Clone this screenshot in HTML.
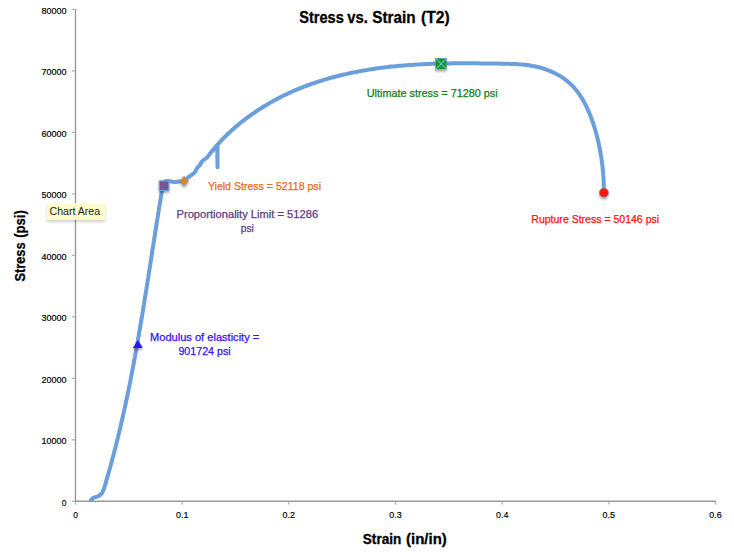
<!DOCTYPE html>
<html>
<head>
<meta charset="utf-8">
<title>Stress vs. Strain (T2)</title>
<style>
html,body{margin:0;padding:0;background:#fff;}
body{width:734px;height:553px;overflow:hidden;font-family:"Liberation Sans",sans-serif;}
svg{display:block;}
text{font-family:"Liberation Sans",sans-serif;}
.tick{font-size:9.7px;fill:#000;stroke:#000;stroke-width:0.18px;}
.lbl{font-size:10.7px;stroke-width:0.25px;}
.ttl{font-weight:bold;fill:#000;stroke:#000;stroke-width:0.3px;}
</style>
</head>
<body>
<svg width="734" height="553" viewBox="0 0 734 553">
<defs>
<filter id="sh" x="-50%" y="-50%" width="200%" height="220%">
<feGaussianBlur in="SourceAlpha" stdDeviation="1.3"/>
<feOffset dx="0" dy="1.6" result="b"/>
<feComponentTransfer><feFuncA type="linear" slope="0.33"/></feComponentTransfer>
<feMerge><feMergeNode/><feMergeNode in="SourceGraphic"/></feMerge>
</filter>
<filter id="tsh" x="-30%" y="-50%" width="160%" height="250%"><feGaussianBlur stdDeviation="1.6"/><feOffset dy="1.5"/></filter>
<clipPath id="plotclip"><rect x="0" y="0" width="734" height="502.1"/></clipPath>
</defs>
<rect width="734" height="553" fill="#fff"/>

<!-- axes -->
<g stroke="#9a9a9a" stroke-width="1.4" fill="none">
<line x1="75.5" y1="9" x2="75.5" y2="502"/>
<line x1="74.8" y1="501.3" x2="716.2" y2="501.3"/>
</g>
<g stroke="#b4b4b4" stroke-width="1.3" fill="none">
<line x1="71.8" y1="9.4" x2="75" y2="9.4"/>
<line x1="71.8" y1="70.9" x2="75" y2="70.9"/>
<line x1="71.8" y1="132.4" x2="75" y2="132.4"/>
<line x1="71.8" y1="193.9" x2="75" y2="193.9"/>
<line x1="71.8" y1="255.4" x2="75" y2="255.4"/>
<line x1="71.8" y1="316.8" x2="75" y2="316.8"/>
<line x1="71.8" y1="378.3" x2="75" y2="378.3"/>
<line x1="71.8" y1="439.8" x2="75" y2="439.8"/>
<line x1="71.8" y1="501.3" x2="75" y2="501.3"/>
<line x1="75.5" y1="502" x2="75.5" y2="504.6"/>
<line x1="182.2" y1="502" x2="182.2" y2="504.6"/>
<line x1="288.8" y1="502" x2="288.8" y2="504.6"/>
<line x1="395.5" y1="502" x2="395.5" y2="504.6"/>
<line x1="502.2" y1="502" x2="502.2" y2="504.6"/>
<line x1="608.9" y1="502" x2="608.9" y2="504.6"/>
<line x1="715.5" y1="502" x2="715.5" y2="504.6"/>
</g>

<!-- y tick labels -->
<g class="tick">
<text x="41.4" y="13.9" textLength="25.0" lengthAdjust="spacingAndGlyphs">80000</text>
<text x="41.4" y="75.4" textLength="25.0" lengthAdjust="spacingAndGlyphs">70000</text>
<text x="41.4" y="136.9" textLength="25.0" lengthAdjust="spacingAndGlyphs">60000</text>
<text x="41.4" y="198.4" textLength="25.0" lengthAdjust="spacingAndGlyphs">50000</text>
<text x="41.4" y="259.9" textLength="25.0" lengthAdjust="spacingAndGlyphs">40000</text>
<text x="41.4" y="321.4" textLength="25.0" lengthAdjust="spacingAndGlyphs">30000</text>
<text x="41.4" y="382.9" textLength="25.0" lengthAdjust="spacingAndGlyphs">20000</text>
<text x="41.4" y="444.4" textLength="25.0" lengthAdjust="spacingAndGlyphs">10000</text>
<text x="61.7" y="505.9" textLength="4.7" lengthAdjust="spacingAndGlyphs">0</text>
</g>
<!-- x tick labels -->
<g class="tick">
<text x="73.2" y="517.9" textLength="4.7" lengthAdjust="spacingAndGlyphs">0</text>
<text x="176.0" y="517.9" textLength="12.4" lengthAdjust="spacingAndGlyphs">0.1</text>
<text x="282.6" y="517.9" textLength="12.4" lengthAdjust="spacingAndGlyphs">0.2</text>
<text x="389.3" y="517.9" textLength="12.4" lengthAdjust="spacingAndGlyphs">0.3</text>
<text x="496.0" y="517.9" textLength="12.4" lengthAdjust="spacingAndGlyphs">0.4</text>
<text x="602.6" y="517.9" textLength="12.4" lengthAdjust="spacingAndGlyphs">0.5</text>
<text x="709.3" y="517.9" textLength="12.4" lengthAdjust="spacingAndGlyphs">0.6</text>
</g>

<!-- titles -->
<g class="ttl" font-size="16.2">
<text x="299.2" y="22.8" textLength="44.6" lengthAdjust="spacingAndGlyphs">Stress</text>
<text x="347.3" y="22.8" textLength="20.6" lengthAdjust="spacingAndGlyphs">vs.</text>
<text x="372.3" y="22.8" textLength="43.4" lengthAdjust="spacingAndGlyphs">Strain</text>
<text x="421.1" y="22.8" textLength="28.5" lengthAdjust="spacingAndGlyphs">(T2)</text>
</g>
<g class="ttl" font-size="14.6">
<text x="362.8" y="543.6" textLength="38.5" lengthAdjust="spacingAndGlyphs">Strain</text>
<text x="406" y="543.6" textLength="40.8" lengthAdjust="spacingAndGlyphs">(in/in)</text>
</g>
<g class="ttl" font-size="14.6" transform="translate(25.3,281.6) rotate(-90)">
<text x="0" y="0" textLength="39.2" lengthAdjust="spacingAndGlyphs">Stress</text>
<text x="43.8" y="0" textLength="27.6" lengthAdjust="spacingAndGlyphs">(psi)</text>
</g>

<!-- curve -->
<path id="curve" clip-path="url(#plotclip)" fill="none" stroke="#6a9fdc" stroke-width="4" stroke-linecap="round" stroke-linejoin="round"
d="M91.0,502.5 L90.9,501.8 L90.9,501.2 L91.0,500.5 L91.2,499.9 L91.5,499.4 L91.9,498.9 L92.4,498.5 L92.9,498.2 L93.4,497.9 L94.0,497.6 L94.6,497.4 L95.2,497.2 L95.9,497.1 L96.5,496.9 L97.1,496.6 L97.7,496.4 L98.3,496.1 L98.8,495.8 L99.3,495.5 L99.9,495.1 L100.3,494.7 L100.8,494.3 L101.2,493.9 L101.6,493.4 L102.0,492.9 L102.4,492.4 L102.7,491.8 L102.9,491.2 L103.2,490.6 L103.4,490.0 L103.5,490.1 L104.0,488.6 L104.4,487.2 L104.8,485.7 L105.3,484.3 L105.7,482.8 L106.1,481.4 L106.5,479.9 L107.0,478.5 L107.4,477.0 L107.8,475.6 L108.2,474.1 L108.6,472.7 L109.0,471.2 L109.4,469.8 L109.9,468.3 L110.3,466.9 L110.7,465.4 L111.1,464.0 L111.5,462.5 L111.8,461.1 L112.2,459.6 L112.6,458.1 L113.0,456.7 L113.4,455.2 L113.8,453.8 L114.2,452.3 L114.5,450.8 L114.9,449.4 L115.3,447.9 L115.7,446.5 L116.0,445.0 L116.4,443.5 L116.8,442.1 L117.1,440.6 L117.5,439.2 L117.9,437.7 L118.2,436.2 L118.6,434.8 L118.9,433.3 L119.3,431.8 L119.6,430.4 L120.0,428.9 L120.3,427.4 L120.7,426.0 L121.0,424.5 L121.3,423.0 L121.7,421.6 L122.0,420.1 L122.4,418.6 L122.7,417.2 L123.0,415.7 L123.3,414.2 L123.7,412.8 L124.0,411.3 L124.3,409.8 L124.6,408.3 L125.0,406.9 L125.3,405.4 L125.6,403.9 L125.9,402.5 L126.2,401.0 L126.5,399.5 L126.8,398.0 L127.2,396.6 L127.5,395.1 L127.8,393.6 L128.1,392.1 L128.4,390.7 L128.7,389.2 L129.0,387.7 L129.3,386.2 L129.6,384.8 L129.9,383.3 L130.2,381.8 L130.5,380.3 L130.7,378.8 L131.0,377.4 L131.3,375.9 L131.6,374.4 L131.9,372.9 L132.2,371.4 L132.5,370.0 L132.7,368.5 L133.0,367.0 L133.3,365.5 L133.6,364.0 L133.9,362.6 L134.1,361.1 L134.4,359.6 L134.7,358.1 L135.0,356.6 L135.2,355.2 L135.5,353.7 L135.8,352.2 L136.0,350.7 L136.3,349.2 L136.6,347.7 L136.8,346.3 L137.1,344.8 L137.4,343.3 L137.6,341.8 L137.9,340.3 L138.1,338.8 L138.4,337.4 L138.7,335.9 L138.9,334.4 L139.2,332.9 L139.4,331.4 L139.7,329.9 L139.9,328.4 L140.2,327.0 L140.4,325.5 L140.7,324.0 L140.9,322.5 L141.2,321.0 L141.4,319.5 L141.7,318.0 L141.9,316.5 L142.2,315.1 L142.4,313.6 L142.7,312.1 L142.9,310.6 L143.2,309.1 L143.4,307.6 L143.6,306.1 L143.9,304.6 L144.1,303.2 L144.4,301.7 L144.6,300.2 L144.8,298.7 L145.1,297.2 L145.3,295.7 L145.6,294.2 L145.8,292.7 L146.0,291.2 L146.3,289.8 L146.5,288.3 L146.8,286.8 L147.0,285.3 L147.2,283.8 L147.5,282.3 L147.7,280.8 L147.9,279.3 L148.2,277.8 L148.4,276.4 L148.6,274.9 L148.9,273.4 L149.1,271.9 L149.3,270.4 L149.6,268.9 L149.8,267.4 L150.0,265.9 L150.3,264.4 L150.5,263.0 L150.7,261.5 L151.0,260.0 L151.2,258.5 L151.4,257.0 L151.7,255.5 L151.9,254.0 L152.1,252.5 L152.3,251.0 L152.6,249.5 L152.8,248.1 L153.0,246.6 L153.3,245.1 L153.5,243.6 L153.7,242.1 L154.0,240.6 L154.2,239.1 L154.4,237.6 L154.7,236.1 L154.9,234.7 L155.1,233.2 L155.4,231.7 L155.6,230.2 L155.8,228.7 L156.1,227.2 L156.3,225.7 L156.5,224.2 L156.8,222.7 L157.0,221.3 L157.2,219.8 L157.5,218.3 L157.7,216.8 L158.0,215.3 L158.2,213.8 L158.4,212.3 L158.7,210.8 L158.9,209.3 L159.1,207.9 L159.4,206.4 L159.6,204.9 L159.9,203.4 L160.1,201.9 L160.4,200.4 L160.6,198.9 L160.8,197.5 L161.1,196.0 L161.3,194.5 L161.6,193.0 L161.8,191.5 L162.1,190.0 L162.3,188.5 L162.6,187.1 L162.8,185.6 L163.0,184.1 L163.3,182.6 L163.4,182.7 L163.9,182.1 L164.6,181.6 L165.2,181.3 L165.8,181.1 L166.5,180.9 L167.2,180.9 L167.9,180.9 L168.5,181.0 L169.2,181.1 L169.9,181.2 L170.7,181.4 L171.4,181.6 L172.1,181.7 L172.8,181.9 L173.5,182.0 L174.2,182.0 L174.9,182.0 L175.6,182.0 L176.2,181.9 L176.9,181.8 L177.6,181.7 L178.3,181.6 L179.0,181.4 L179.7,181.4 L180.4,181.3 L181.1,181.3 L181.9,181.2 L182.6,181.2 L183.3,181.1 L183.9,180.9 L184.5,180.6 L185.1,180.2 L185.7,179.7 L186.2,179.3 L186.7,178.8 L187.2,178.3 L187.8,177.8 L188.3,177.4 L188.8,176.9 L189.4,176.5 L190.0,176.1 L190.6,175.7 L191.2,175.3 L191.7,174.8 L192.3,174.4 L192.9,174.0 L193.4,173.6 L193.9,173.1 L194.4,172.6 L194.9,172.1 L195.3,171.5 L195.7,170.9 L196.0,170.3 L196.4,169.6 L196.7,169.0 L197.0,168.3 L197.4,167.8 L197.9,167.2 L198.4,166.7 L198.9,166.2 L199.4,165.7 L199.8,165.2 L200.2,164.6 L200.5,164.0 L200.8,163.4 L201.1,162.8 L201.5,162.2 L201.9,161.6 L202.4,161.1 L202.9,160.7 L203.4,160.2 L204.0,159.8 L204.6,159.4 L205.1,158.9 L205.7,158.5 L206.3,158.1 L206.9,157.6 L207.4,157.1 L207.9,156.6 L208.3,156.1 L208.7,155.5 L209.1,154.9 L209.5,154.3 L209.9,153.7 L210.3,153.1 L210.8,152.6 L211.2,152.1 L211.7,151.5 L212.2,151.0 L212.7,150.5 L213.2,150.0 L213.7,149.5 L214.1,149.0 L214.6,148.4 L215.0,147.9 L215.4,147.3 L215.7,146.6 L216.1,146.0 L216.6,145.5 L217.3,145.2 L217.5,167.2 L217.5,145 L217.3,144.8 L218.7,143.3 L220.0,141.9 L221.4,140.4 L222.8,139.0 L224.2,137.5 L225.6,136.1 L227.1,134.7 L228.5,133.3 L230.0,132.0 L231.5,130.6 L233.0,129.3 L234.5,127.9 L236.0,126.6 L237.5,125.3 L239.1,124.1 L240.6,122.8 L242.2,121.5 L243.8,120.3 L245.4,119.1 L247.0,117.9 L248.6,116.7 L250.3,115.5 L251.9,114.3 L253.6,113.2 L255.3,112.0 L256.9,110.9 L258.6,109.8 L260.3,108.7 L262.0,107.6 L263.7,106.5 L265.5,105.5 L267.2,104.5 L269.0,103.4 L270.7,102.4 L272.5,101.4 L274.2,100.5 L276.0,99.5 L277.8,98.6 L279.6,97.6 L281.4,96.7 L283.2,95.8 L285.0,94.9 L286.8,94.1 L288.7,93.2 L290.5,92.4 L292.4,91.5 L294.2,90.7 L296.1,89.9 L297.9,89.1 L299.8,88.4 L301.6,87.6 L303.5,86.9 L305.4,86.2 L307.3,85.5 L309.2,84.8 L311.0,84.1 L312.9,83.4 L314.8,82.8 L316.7,82.1 L318.7,81.5 L320.6,80.9 L322.5,80.3 L324.4,79.7 L326.3,79.1 L328.3,78.6 L330.2,78.0 L332.1,77.5 L334.1,77.0 L336.0,76.5 L338.0,76.0 L339.9,75.5 L341.9,75.0 L343.8,74.5 L345.8,74.1 L347.7,73.6 L349.7,73.2 L351.7,72.8 L353.7,72.4 L355.6,72.0 L357.6,71.6 L359.6,71.2 L361.6,70.9 L363.6,70.5 L365.5,70.2 L367.5,69.9 L369.5,69.5 L371.5,69.2 L373.5,68.9 L375.5,68.6 L377.5,68.3 L379.5,68.1 L381.5,67.8 L383.5,67.6 L385.5,67.3 L387.5,67.1 L389.5,66.8 L391.5,66.6 L393.5,66.4 L395.6,66.2 L397.6,66.0 L399.6,65.8 L401.6,65.7 L403.6,65.5 L405.6,65.3 L407.6,65.2 L409.7,65.0 L411.7,64.9 L413.7,64.7 L415.7,64.6 L417.7,64.5 L419.7,64.4 L421.8,64.3 L423.8,64.2 L425.8,64.1 L427.8,64.0 L429.8,63.9 L431.8,63.8 L433.8,63.8 L435.9,63.7 L437.9,63.6 L439.9,63.6 L441.9,63.5 L443.9,63.5 L445.9,63.4 L447.9,63.4 L449.9,63.4 L451.9,63.3 L453.9,63.3 L455.9,63.3 L457.9,63.3 L459.9,63.3 L462.0,63.3 L464.0,63.3 L466.0,63.3 L468.0,63.3 L470.0,63.3 L472.0,63.3 L474.0,63.3 L476.0,63.3 L478.0,63.3 L480.0,63.4 L482.0,63.4 L484.0,63.4 L486.0,63.4 L488.1,63.5 L490.1,63.5 L492.1,63.5 L494.1,63.6 L496.2,63.6 L498.2,63.6 L500.2,63.7 L502.3,63.7 L504.3,63.7 L506.4,63.8 L508.4,63.8 L510.4,63.9 L512.5,64.0 L514.5,64.0 L516.6,64.1 L518.6,64.3 L520.7,64.4 L522.7,64.6 L524.7,64.8 L526.7,65.0 L528.7,65.3 L530.7,65.6 L532.7,66.0 L534.7,66.3 L536.7,66.8 L538.7,67.2 L540.6,67.8 L542.5,68.3 L544.4,68.9 L546.3,69.6 L548.2,70.3 L550.1,71.0 L551.9,71.8 L553.7,72.6 L555.5,73.5 L557.2,74.4 L558.9,75.4 L560.6,76.4 L562.3,77.4 L563.9,78.6 L565.5,79.7 L567.0,80.9 L568.5,82.2 L570.0,83.5 L571.4,84.8 L572.8,86.2 L574.1,87.7 L575.4,89.2 L576.7,90.7 L577.9,92.3 L579.1,93.9 L580.2,95.6 L581.3,97.3 L582.3,99.0 L583.4,100.8 L584.3,102.6 L585.3,104.4 L586.2,106.2 L587.1,108.1 L588.0,109.9 L588.8,111.8 L589.6,113.7 L590.3,115.6 L591.1,117.5 L591.8,119.5 L592.5,121.4 L593.2,123.3 L593.8,125.3 L594.4,127.2 L595.0,129.2 L595.6,131.2 L596.1,133.1 L596.7,135.1 L597.2,137.1 L597.6,139.1 L598.1,141.0 L598.6,143.0 L599.0,145.0 L599.4,147.0 L599.8,148.9 L600.2,150.9 L600.5,152.9 L600.8,154.9 L601.2,156.8 L601.5,158.8 L601.8,160.8 L602.0,162.8 L602.3,164.7 L602.5,166.7 L602.7,168.7 L602.9,170.7 L603.1,172.7 L603.2,174.7 L603.4,176.7 L603.5,178.7 L603.6,180.7 L603.7,182.7 L603.7,184.7 L603.8,186.7 L603.8,188.7 L603.8,190.7 L603.8,192.8"/>

<!-- markers -->
<g filter="url(#sh)">
<polygon points="137.9,340 142.8,347.9 132.9,347.9" fill="#2a14fa"/>
<rect x="159.3" y="180.9" width="9.5" height="9.5" fill="#735591" stroke="#6a9fdc" stroke-width="1.2"/>
<polygon points="184.1,176.3 188.5,181 184.1,185.8 179.7,181" fill="#eb8214" stroke="#6a9fdc" stroke-width="0.9"/>
<g>
<rect x="435.6" y="58.2" width="11" height="11" fill="#0b9a1c" stroke="#6a9fdc" stroke-width="0.6"/>
<path d="M436,58.6 L446.2,68.8 M446.2,58.6 L436,68.8" stroke="#7db0ea" stroke-width="1.1" fill="none"/>
</g>
<circle cx="603.9" cy="192.7" r="4.6" fill="#ff1400" stroke="#6a9fdc" stroke-width="0.7"/>
</g>

<!-- data labels -->
<text class="lbl" x="207.9" y="189.6" fill="#e36c21" stroke="#e36c21" textLength="113.1" lengthAdjust="spacingAndGlyphs">Yield Stress = 52118 psi</text>
<text class="lbl" x="176.5" y="218.2" fill="#5b3c80" stroke="#5b3c80" textLength="141.6" lengthAdjust="spacingAndGlyphs">Proportionality Limit = 51286</text>
<text class="lbl" x="240.8" y="232.2" fill="#5b3c80" stroke="#5b3c80" textLength="13.1" lengthAdjust="spacingAndGlyphs">psi</text>
<text class="lbl" x="150" y="340.9" fill="#3312f5" stroke="#3312f5" textLength="109.3" lengthAdjust="spacingAndGlyphs">Modulus of elasticity =</text>
<text class="lbl" x="178.4" y="354.9" fill="#3312f5" stroke="#3312f5" textLength="52.3" lengthAdjust="spacingAndGlyphs">901724 psi</text>
<text class="lbl" x="366.8" y="96.8" fill="#0f8216" stroke="#0f8216" textLength="130.8" lengthAdjust="spacingAndGlyphs">Ultimate stress = 71280 psi</text>
<text class="lbl" x="531.3" y="222.7" fill="#ff1010" stroke="#ff1010" textLength="127.8" lengthAdjust="spacingAndGlyphs">Rupture Stress = 50146 psi</text>

<!-- tooltip -->
<g>
<rect x="47" y="203" width="58" height="17" fill="#000" fill-opacity="0.18" filter="url(#tsh)"/>
<rect x="47" y="203" width="58" height="17" fill="#ffffcb" fill-opacity="0.9"/>
<text x="49.5" y="215.3" font-size="11.4" fill="#1e1e1e" textLength="50.6" lengthAdjust="spacingAndGlyphs">Chart Area</text>
</g>
</svg>
</body>
</html>
